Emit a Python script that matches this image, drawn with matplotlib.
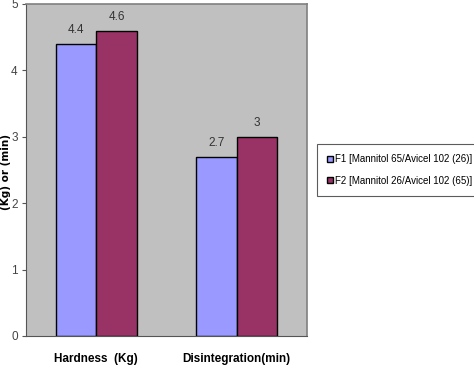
import matplotlib
matplotlib.use("Agg")
import matplotlib.pyplot as plt
import numpy as np

categories = ["Hardness  (Kg)", "Disintegration(min)"]
series_names = ["F1 [Mannitol 65/Avicel 102 (26)]", "F2 [Mannitol 26/Avicel 102 (65)]"]
f1_values = [4.4, 2.7]
f2_values = [4.6, 3.0]
value_labels_f1 = ["4.4", "2.7"]
value_labels_f2 = ["4.6", "3"]

plt.rcParams['font.family'] = ['Liberation Sans Narrow', 'Liberation Sans', 'DejaVu Sans']

fig = plt.figure(figsize=(4.74, 3.69), dpi=100)
ax = fig.add_axes([26 / 474, 33 / 369, 281 / 474, 332 / 369])
ax.set_facecolor("#c0c0c0")

x = np.arange(len(categories))
w = 0.288
b1 = ax.bar(x - w / 2, f1_values, w, color="#9999ff", edgecolor="black", linewidth=1, label=series_names[0])
b2 = ax.bar(x + w / 2, f2_values, w, color="#993366", edgecolor="black", linewidth=1, label=series_names[1])

for bars, labs in [(b1, value_labels_f1), (b2, value_labels_f2)]:
    for rect, lab in zip(bars, labs):
        ax.text(rect.get_x() + rect.get_width() / 2, rect.get_height() + 0.12, lab,
                ha="center", va="bottom", fontsize=8.5, color="#333333")

ax.set_xlim(-0.5, 1.5)
ax.set_ylim(0, 5)
ax.set_yticks([0, 1, 2, 3, 4, 5])
ax.tick_params(axis="y", labelsize=8.5, labelcolor="#444444", color="#555555", length=3, pad=3)
ax.set_xticks(x)
ax.set_xticklabels(categories, fontsize=8.5, fontweight="bold")
ax.tick_params(axis="x", length=0, pad=12)

for s in ["top", "right"]:
    ax.spines[s].set_color("#808080")
    ax.spines[s].set_linewidth(1.2)
ax.spines["left"].set_color("#555555")
ax.spines["bottom"].set_color("#555555")

fig.text(6 / 474, 1 - 172 / 369, "(Kg) or (min)", rotation=90, ha="center", va="center",
         fontsize=7.5, fontweight="bold", family=['DejaVu Sans'])

leg = fig.legend(handles=[b1, b2], loc="center left", bbox_to_anchor=(317 / 474, 199 / 369),
                 fontsize=7, frameon=True, fancybox=False, handlelength=0.6, handleheight=0.6,
                 handletextpad=0.3, borderpad=1.0, labelspacing=1.2, borderaxespad=0)
leg.get_frame().set_edgecolor("#333333")
leg.get_frame().set_linewidth(0.8)

fig.savefig("out.png", dpi=100)
